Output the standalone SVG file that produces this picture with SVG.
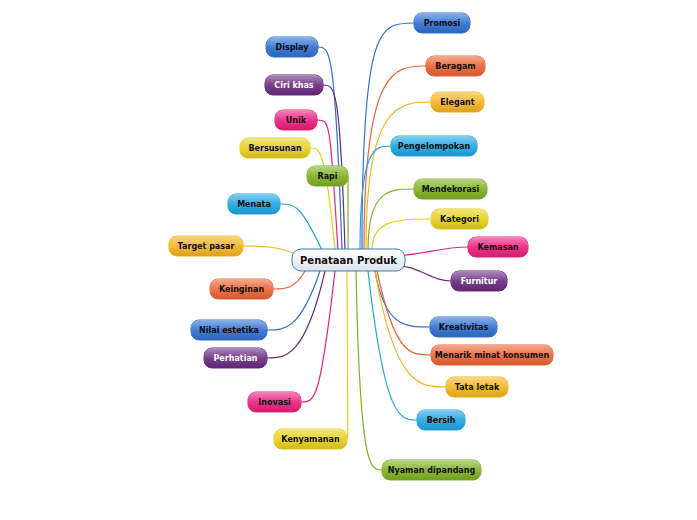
<svg xmlns="http://www.w3.org/2000/svg" width="697" height="520" viewBox="0 0 697 520">
<defs>
<linearGradient id="gl" x1="0" y1="0" x2="0" y2="1"><stop offset="0" stop-color="#fff" stop-opacity="0.45"/><stop offset="0.5" stop-color="#fff" stop-opacity="0.1"/><stop offset="1" stop-color="#000" stop-opacity="0.1"/></linearGradient>
<linearGradient id="cg" x1="0" y1="0" x2="0" y2="1"><stop offset="0" stop-color="#ffffff"/><stop offset="1" stop-color="#dfe3e6"/></linearGradient>
</defs>
<style>
text{font-family:Verdana,"DejaVu Sans",sans-serif;font-size:8px;font-weight:bold;text-anchor:middle;fill:#111}
.w{fill:#fff}
.g{fill:url(#gl)}
.c path{fill:none;stroke-width:1.2}
.blue{fill:#2f6fd1;stroke:#2f6fd1}.orange{fill:#ea6334;stroke:#ea6334}.yellow{fill:#e6cf1c;stroke:#e6cf1c}.gold{fill:#f5b41e;stroke:#f5b41e}.cyan{fill:#1ea6e3;stroke:#1ea6e3}.green{fill:#7fb022;stroke:#7fb022}.pink{fill:#ea1f7c;stroke:#ea1f7c}.purple{fill:#6a2a80;stroke:#6a2a80}
</style>
<rect width="697" height="520" fill="#fff"/>
<g id="connectors" class="c">
<path class="blue" style="fill:none" d="M362,250 C362,23 380,23 414,23"/>
<path class="orange" style="fill:none" d="M364,250 C364,66 395,66 426,66"/>
<path class="gold" style="fill:none" d="M366,250 C366,102 400,102 431,102"/>
<path class="cyan" style="fill:none" d="M360,250 C360,146 375,146 391,146"/>
<path class="green" style="fill:none" d="M368,250 C368,189 390,189 414,189"/>
<path class="yellow" style="fill:none" d="M372,250 C372,219 400,219 431,219"/>
<path class="pink" style="fill:none" d="M390,256 C420,256 440,247 468,247"/>
<path class="purple" style="fill:none" d="M390,265 C420,265 430,281 451,281"/>
<path class="blue" style="fill:none" d="M375,271 C385,327 405,327 430,327"/>
<path class="orange" style="fill:none" d="M377,271 C395,355 410,355 431,355"/>
<path class="gold" style="fill:none" d="M375,271 C395,387 420,387 446,387"/>
<path class="cyan" style="fill:none" d="M368,271 C385,420 400,420 417,420"/>
<path class="green" style="fill:none" d="M356,271 C360,470 370,470 382,470"/>
<path class="blue" style="fill:none" d="M342,250 C335,47 330,47 318,47"/>
<path class="purple" style="fill:none" d="M345,250 C340,85 335,85 323,85"/>
<path class="pink" style="fill:none" d="M338,250 C330,120 330,120 317,120"/>
<path class="yellow" style="fill:none" d="M335,250 C325,148 320,148 310,148"/>
<path class="green" style="fill:none" d="M348,250 C348,176 348,176 348,176"/>
<path class="cyan" style="fill:none" d="M322,250 C300,204 295,204 280,204"/>
<path class="gold" style="fill:none" d="M300,256 C280,246 260,246 243,246"/>
<path class="orange" style="fill:none" d="M305,271 C295,289 285,289 273,289"/>
<path class="blue" style="fill:none" d="M320,271 C300,330 285,330 267,330"/>
<path class="purple" style="fill:none" d="M325,271 C305,358 285,358 267,358"/>
<path class="pink" style="fill:none" d="M335,271 C320,402 315,402 301,402"/>
<path class="yellow" style="fill:none" d="M347,271 C348,439 348,439 347,439"/>
</g>
<g id="center"><rect x="292" y="249" width="113" height="22" rx="9" fill="url(#cg)" stroke="#3b7fb5" stroke-width="1"/><text x="348.5" y="264" style="font-size:10px">Penataan Produk</text></g>
<g id="n-promosi"><rect class="blue" x="414" y="13" width="56" height="20" rx="8"/><rect class="g" x="414" y="13" width="56" height="20" rx="8"/><text x="442" y="26">Promosi</text></g>
<g id="n-beragam"><rect class="orange" x="426" y="56" width="59" height="20" rx="8"/><rect class="g" x="426" y="56" width="59" height="20" rx="8"/><text x="455.5" y="69">Beragam</text></g>
<g id="n-elegant"><rect class="gold" x="431" y="92" width="53" height="20" rx="8"/><rect class="g" x="431" y="92" width="53" height="20" rx="8"/><text x="457.5" y="105">Elegant</text></g>
<g id="n-pengelompokan"><rect class="cyan" x="391" y="136" width="86" height="20" rx="8"/><rect class="g" x="391" y="136" width="86" height="20" rx="8"/><text x="434" y="149">Pengelompokan</text></g>
<g id="n-mendekorasi"><rect class="green" x="414" y="179" width="73" height="20" rx="8"/><rect class="g" x="414" y="179" width="73" height="20" rx="8"/><text x="450.5" y="192">Mendekorasi</text></g>
<g id="n-kategori"><rect class="yellow" x="431" y="209" width="57" height="20" rx="8"/><rect class="g" x="431" y="209" width="57" height="20" rx="8"/><text x="459.5" y="222">Kategori</text></g>
<g id="n-kemasan"><rect class="pink" x="468" y="237" width="60" height="20" rx="8"/><rect class="g" x="468" y="237" width="60" height="20" rx="8"/><text x="498" y="250">Kemasan</text></g>
<g id="n-furnitur"><rect class="purple" x="451" y="271" width="56" height="20" rx="8"/><rect class="g" x="451" y="271" width="56" height="20" rx="8"/><text class="w" x="479" y="284">Furnitur</text></g>
<g id="n-kreativitas"><rect class="blue" x="430" y="317" width="67" height="20" rx="8"/><rect class="g" x="430" y="317" width="67" height="20" rx="8"/><text x="463.5" y="330">Kreativitas</text></g>
<g id="n-menarik"><rect class="orange" x="431" y="345" width="122" height="20" rx="8"/><rect class="g" x="431" y="345" width="122" height="20" rx="8"/><text x="492" y="358">Menarik minat konsumen</text></g>
<g id="n-tataletak"><rect class="gold" x="446" y="377" width="62" height="20" rx="8"/><rect class="g" x="446" y="377" width="62" height="20" rx="8"/><text x="477" y="390">Tata letak</text></g>
<g id="n-bersih"><rect class="cyan" x="417" y="410" width="48" height="20" rx="8"/><rect class="g" x="417" y="410" width="48" height="20" rx="8"/><text x="441" y="423">Bersih</text></g>
<g id="n-nyaman"><rect class="green" x="382" y="460" width="99" height="20" rx="8"/><rect class="g" x="382" y="460" width="99" height="20" rx="8"/><text x="431.5" y="473">Nyaman dipandang</text></g>
<g id="n-display"><rect class="blue" x="266" y="37" width="52" height="20" rx="8"/><rect class="g" x="266" y="37" width="52" height="20" rx="8"/><text x="292" y="50">Display</text></g>
<g id="n-cirikhas"><rect class="purple" x="265" y="75" width="58" height="20" rx="8"/><rect class="g" x="265" y="75" width="58" height="20" rx="8"/><text class="w" x="294" y="88">Ciri khas</text></g>
<g id="n-unik"><rect class="pink" x="275" y="110" width="42" height="20" rx="8"/><rect class="g" x="275" y="110" width="42" height="20" rx="8"/><text x="296" y="123">Unik</text></g>
<g id="n-bersusunan"><rect class="yellow" x="240" y="138" width="70" height="20" rx="8"/><rect class="g" x="240" y="138" width="70" height="20" rx="8"/><text x="275" y="151">Bersusunan</text></g>
<g id="n-rapi"><rect class="green" x="307" y="166" width="41" height="20" rx="8"/><rect class="g" x="307" y="166" width="41" height="20" rx="8"/><text x="327.5" y="179">Rapi</text></g>
<g id="n-menata"><rect class="cyan" x="228" y="194" width="52" height="20" rx="8"/><rect class="g" x="228" y="194" width="52" height="20" rx="8"/><text x="254" y="207">Menata</text></g>
<g id="n-targetpasar"><rect class="gold" x="169" y="236" width="74" height="20" rx="8"/><rect class="g" x="169" y="236" width="74" height="20" rx="8"/><text x="206" y="249">Target pasar</text></g>
<g id="n-keinginan"><rect class="orange" x="210" y="279" width="63" height="20" rx="8"/><rect class="g" x="210" y="279" width="63" height="20" rx="8"/><text x="241.5" y="292">Keinginan</text></g>
<g id="n-nilai"><rect class="blue" x="191" y="320" width="76" height="20" rx="8"/><rect class="g" x="191" y="320" width="76" height="20" rx="8"/><text x="229" y="333">Nilai estetika</text></g>
<g id="n-perhatian"><rect class="purple" x="204" y="348" width="63" height="20" rx="8"/><rect class="g" x="204" y="348" width="63" height="20" rx="8"/><text class="w" x="235.5" y="361">Perhatian</text></g>
<g id="n-inovasi"><rect class="pink" x="248" y="392" width="53" height="20" rx="8"/><rect class="g" x="248" y="392" width="53" height="20" rx="8"/><text x="274.5" y="405">Inovasi</text></g>
<g id="n-kenyamanan"><rect class="yellow" x="274" y="429" width="73" height="20" rx="8"/><rect class="g" x="274" y="429" width="73" height="20" rx="8"/><text x="310.5" y="442">Kenyamanan</text></g>
</svg>
